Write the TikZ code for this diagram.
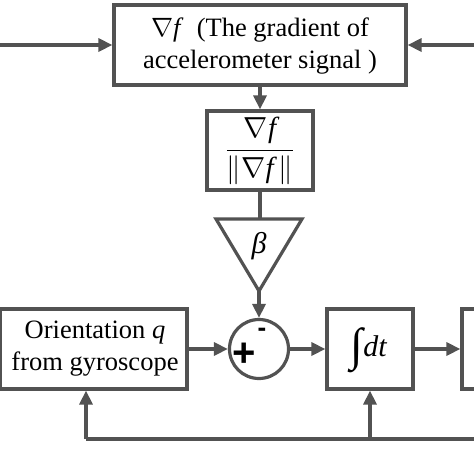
\documentclass[tikz,border=0pt]{standalone}
\usepackage{fix-cm}
\usepackage{fontspec}
\setmainfont{Liberation Serif}
\newfontfamily\pmfont{Liberation Sans}
\usetikzlibrary{arrows.meta}
\newcommand{\vi}[1]{\textit{#1}}
\begin{document}
\begin{tikzpicture}[x=1pt,y=-1pt,
  ln/.style={draw=black!68,line width=3.2pt},
  arr/.style={ln,-{Triangle[length=14pt,width=13pt]}},
  blk/.style={ln,fill=white,rectangle,inner sep=0pt},
  txt/.style={font=\fontsize{26.5}{32}\selectfont,align=center}]
\clip (0,0) rectangle (474,474);
\useasboundingbox (0,0) rectangle (474,474);
% top box
\node[blk,minimum width=292pt,minimum height=80pt] (grad) at (260,45) {};
\node[txt] (gradt) at (260,46) {$\nabla$\vi{f}\ \ (The gradient of\\accelerometer signal )};
% normalisation box
\node[blk,minimum width=106pt,minimum height=79pt] (norm) at (260,150.5) {};
\node[txt,font=\fontsize{29}{32}\selectfont] (normt) at (260,151) {$\displaystyle\frac{\nabla\vi{f}}{\left\|\nabla \vi{f}\,\right\|}$};
% triangle
\coordinate (tl) at (216,219);
\coordinate (tr) at (302,219);
\coordinate (tb) at (259,291);
\coordinate (tt) at (260,219);
\draw[ln,line join=miter] (tl) -- (tr) -- (tb) -- cycle;
\node[txt,font=\fontsize{30}{32}\selectfont] (beta) at (259,246) {\vi{β}};
% sum
\node[ln,circle,minimum size=59pt,inner sep=0pt] (sum) at (259,349) {};
\node[font=\pmfont\bfseries\fontsize{40}{40}\selectfont] (plus) at (244,355) {+};
\node[font=\pmfont\bfseries\fontsize{26}{26}\selectfont] (minus) at (262,332) {-};
% gyro box
\node[blk,minimum width=187pt,minimum height=80pt] (gyro) at (93.5,349) {};
\node[txt] (gyrot) at (95,349) {Orientation \vi{q}\\from gyroscope};
% integrator
\node[blk,minimum width=86pt,minimum height=80pt] (int) at (370,349) {};
\node[txt,font=\fontsize{30}{32}\selectfont] (intt) at (369,350) {\raisebox{-4pt}{\fontsize{46}{46}\selectfont ∫}\vi{dt}};
% right box (cut off)
\node[blk,minimum width=60pt,minimum height=80pt] (out) at (492,349) {};
% free ends
\coordinate (lin) at (-5,45);
\coordinate (rin) at (480,45);
\coordinate (fbr) at (480,439);
\coordinate (fbl) at (86,439);
\coordinate (fbm) at (370,439);
% connectors
\draw[arr] (lin) -- (grad.west);
\draw[arr] (rin) -- (grad.east);
\draw[arr] (grad.south) -- (norm.north);
\draw[ln] (norm.south) -- (tt);
\draw[arr] (tb) -- (sum.north);
\draw[arr] (gyro.east) -- (sum.west);
\draw[arr] (sum.east) -- (int.west);
\draw[arr] (int.east) -- (out.west);
\draw[ln] (fbr) -- (fbl);
\draw[arr] (fbl) -- (fbl |- gyro.south);
\draw[arr] (fbm) -- (int.south);
\end{tikzpicture}
\end{document}
